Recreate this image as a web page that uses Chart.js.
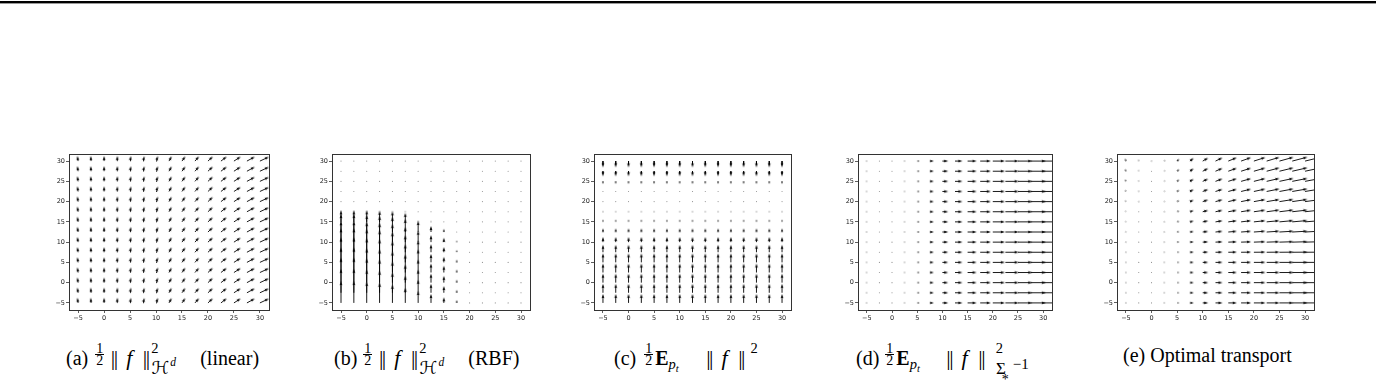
<!DOCTYPE html>
<html>
<head>
<meta charset="utf-8">
<script src="https://cdn.jsdelivr.net/npm/chart.js@4.4.1/dist/chart.umd.min.js"></script>
<style>
  body { margin: 0; width: 1376px; height: 382px; background: #fff; position: relative; overflow: hidden; }
  .rule { position: absolute; left: 0; width: 1376px; }
  .panel { position: absolute; }
  .cap { position: absolute; top: 343px; font-family: "Liberation Serif", serif; font-size: 20px; line-height: 24px; white-space: nowrap; color: #000; }
  .w { display: inline-block; text-align: left; white-space: nowrap; }
  .fr { display: inline-block; width: 9px; font-size: 14px; line-height: 11px; text-align: center; vertical-align: baseline; }
  .fr span { display: block; }
  .fr .dn { border-top: 1px solid #000; }
  .nb { display: inline-block; width: 12px; font-size: 22px; letter-spacing: -1.5px; text-align: center; text-indent: 1px; }
  .mf { display: inline-block; width: 20px; font-size: 22px; font-style: italic; text-align: center; }
  .sp { position: relative; top: -12px; font-size: 14.5px; }
  .cal { position: relative; top: 9px; margin-left: -7px; font-family: "DejaVu Sans", sans-serif; font-style: italic; font-size: 18px; }
  .sd { position: relative; top: 1px; font-style: italic; font-size: 11.5px; margin-left: 1px; }
  .E { font-weight: bold; }
  .pi { position: relative; top: 4px; font-style: italic; font-size: 14.5px; }
  .ti { position: relative; top: 3px; font-style: italic; font-size: 10.5px; }
  .sg { position: relative; top: 9px; margin-left: -7px; font-size: 17px; }
  .st { position: relative; top: 19px; margin-left: -4px; font-size: 14px; }
  .m1 { position: relative; top: 4px; margin-left: 4px; font-size: 15px; }
</style>
</head>
<body>
<div class="rule" style="top:1px;height:2px;background:#000"></div>
<div class="rule" style="top:3px;height:1px;background:#999"></div>

<div class="cap" style="left:66px">(a)<span class="w" style="width:7px"></span><span class="fr"><span>1</span><span class="dn">2</span></span><span class="w" style="width:3px"></span><span class="nb">||</span><i class="mf">f</i><span class="nb">||</span><span class="w" style="width:34px"><span class="sp">2</span><span class="cal">ℋ</span><span class="sd">d</span></span><span class="w" style="width:15px"></span>(linear)</div>
<div class="cap" style="left:334px">(b)<span class="w" style="width:6px"></span><span class="fr"><span>1</span><span class="dn">2</span></span><span class="w" style="width:3px"></span><span class="nb">||</span><i class="mf">f</i><span class="nb">||</span><span class="w" style="width:34px"><span class="sp">2</span><span class="cal">ℋ</span><span class="sd">d</span></span><span class="w" style="width:15px"></span>(RBF)</div>
<div class="cap" style="left:614px">(c)<span class="w" style="width:8px"></span><span class="fr"><span>1</span><span class="dn">2</span></span><span class="w" style="width:2px"></span><span class="E">E</span><span class="w" style="width:22px"><span class="pi">p<span class="ti">t</span></span></span><span class="w" style="width:12px"></span><span class="nb">||</span><i class="mf">f</i><span class="nb">||</span><span class="w" style="width:4px"></span><span class="sp">2</span></div>
<div class="cap" style="left:856px">(d)<span class="w" style="width:6px"></span><span class="fr"><span>1</span><span class="dn">2</span></span><span class="w" style="width:2px"></span><span class="E">E</span><span class="w" style="width:22px"><span class="pi">p<span class="ti">t</span></span></span><span class="w" style="width:11px"></span><span class="nb">||</span><i class="mf">f</i><span class="nb">||</span><span class="w" style="width:9px"></span><span class="w" style="width:45px"><span class="sp">2</span><span class="sg">Σ</span><span class="st">*</span><span class="m1">−1</span></span></div>
<div class="cap" style="left:1123px">(e) Optimal transport</div>

<script>
// grid of arrow tails, rows listed top (y = 30) to bottom (y = -5)
const gridX = [-5, -2.5, 0, 2.5, 5, 7.5, 10, 12.5, 15, 17.5, 20, 22.5, 25, 27.5, 30];
const gridY = [30, 27.5, 25, 22.5, 20, 17.5, 15, 12.5, 10, 7.5, 5, 2.5, 0, -2.5, -5];
const axisTicks = [-5, 0, 5, 10, 15, 20, 25, 30];
const axisMin = -6.75, axisMax = 31.75;

// arrow components below are in quiver units (about one screen pixel each)

// (a) linear kernel: the same arrow in every row of a column
const linU = [-0.8, -0.4, 0, 0.5, 1.0, 1.5, 2.1, 2.7, 3.4, 4.1, 4.9, 5.8, 6.8, 7.9, 9.0];
const linV = [5.2, 5.2, 5.2, 5.2, 5.1, 5.0, 5.0, 4.9, 4.8, 4.7, 4.6, 4.5, 4.4, 4.3, 4.2];

// (b) RBF kernel: vertical arrows only
const rbfV = [
  [0.1, 0.1, 0.1, 0.1, 0.1, 0.1, 0.1, 0.1, 0.1, 0.1, 0.1, 0.1, 0.1, 0.1, 0.1],
  [0.1, 0.1, 0.1, 0.1, 0.1, 0.1, 0.1, 0.1, 0.1, 0.1, 0.1, 0.1, 0.1, 0.1, 0.1],
  [0.1, 0.1, 0.1, 0.1, 0.1, 0.1, 0.1, 0.1, 0.1, 0.1, 0.1, 0.1, 0.1, 0.1, 0.1],
  [0.2, 0.2, 0.2, 0.2, 0.2, 0.1, 0.1, 0.1, 0.1, 0.1, 0.1, 0.1, 0.1, 0.1, 0.1],
  [0.5, 0.5, 0.5, 0.5, 0.4, 0.3, 0.2, 0.1, 0.1, 0.1, 0.1, 0.1, 0.1, 0.1, 0.1],
  [1.2, 1.2, 1.2, 1.2, 1.1, 1.0, 0.5, 0.3, 0.2, 0.1, 0.1, 0.1, 0.1, 0.1, 0.1],
  [11.5, 11.5, 11.5, 11, 10.5, 9, 1.6, 1.2, 0.6, 0.3, 0.1, 0.1, 0.1, 0.1, 0.1],
  [18, 18, 17, 16, 15, 13, 11, 6, 3.2, 0.8, 0.2, 0.1, 0.1, 0.1, 0.1],
  [21, 21, 20, 19, 18, 15, 11.5, 7, 4.4, 1.8, 0.3, 0.1, 0.1, 0.1, 0.1],
  [24, 24, 23, 22, 20, 17, 12, 8, 5.2, 2.4, 0.4, 0.1, 0.1, 0.1, 0.1],
  [25, 25, 24, 23, 21, 18, 13, 8.5, 5.6, 2.8, 0.4, 0.1, 0.1, 0.1, 0.1],
  [25, 25, 24, 23, 21, 18, 13, 9, 6.8, 3.0, 0.5, 0.1, 0.1, 0.1, 0.1],
  [25, 25, 24, 23, 21, 18, 13, 9, 6.8, 3.0, 0.5, 0.1, 0.1, 0.1, 0.1],
  [24, 24, 23, 22, 20, 17, 13, 9, 6.8, 3.0, 0.5, 0.1, 0.1, 0.1, 0.1],
  [22, 22, 21, 20, 18, 15, 12, 9, 5.6, 3.0, 0.5, 0.1, 0.1, 0.1, 0.1]
];

// (c) E_pt ||f||^2: the same vertical arrow in every column of a row
const l2V = [-6.4, -5.2, -2.8, -0.3, 0.2, 1.0, 2.4, 3.6, 5.2, 7.5, 9, 9, 9, 9, 9];

// (d) Sigma weighted: horizontal arrows, same in every row
const sigU = [-1.2, -0.3, 0.3, 0.9, 2.4, 4.0, 5.8, 7.4, 9.0, 10.6, 12.1, 13.3, 14.3, 15.3, 16.3];

// (e) optimal transport
const otU = [-1.0, -0.3, 0.3, 0.9, 2.2, 3.8, 5.5, 7.0, 8.5, 10.0, 11.5, 12.8, 14.0, 15.2, 16.4];
const otV = [
  [2.6, 1.7, 0.9, 1.3, 2.3, 3.0, 3.2, 3.4, 3.5, 3.6, 3.7, 3.8, 3.9, 4.0, 4.0],
  [2.3, 1.5, 0.8, 1.1, 2.0, 2.7, 2.9, 3.0, 3.1, 3.2, 3.3, 3.4, 3.4, 3.5, 3.5],
  [2.0, 1.3, 0.7, 1.0, 1.8, 2.3, 2.5, 2.6, 2.7, 2.8, 2.9, 3.0, 3.0, 3.0, 3.1],
  [1.7, 1.1, 0.6, 0.8, 1.5, 2.0, 2.1, 2.2, 2.3, 2.4, 2.5, 2.6, 2.6, 2.6, 2.7],
  [1.4, 0.9, 0.5, 0.7, 1.2, 1.6, 1.8, 1.9, 2.0, 2.0, 2.1, 2.1, 2.2, 2.2, 2.2],
  [1.1, 0.7, 0.4, 0.5, 0.9, 1.2, 1.4, 1.5, 1.5, 1.6, 1.6, 1.7, 1.7, 1.7, 1.8],
  [0.8, 0.5, 0.3, 0.4, 0.7, 0.9, 1.0, 1.1, 1.1, 1.2, 1.2, 1.2, 1.3, 1.3, 1.3],
  [0.5, 0.3, 0.2, 0.2, 0.4, 0.5, 0.6, 0.7, 0.7, 0.7, 0.8, 0.8, 0.8, 0.8, 0.9],
  [0.2, 0.1, 0.1, 0.1, 0.2, 0.2, 0.3, 0.3, 0.3, 0.3, 0.4, 0.4, 0.4, 0.4, 0.4],
  [0.1, 0.1, 0.1, 0.1, 0.1, 0.1, 0.1, 0.1, 0.1, 0.1, 0.1, 0.1, 0.1, 0.1, 0.1],
  [0, 0, 0, 0, 0, 0, 0, 0, 0, 0, 0, 0, 0, 0, 0],
  [0, 0, 0, 0, 0, 0, 0, 0, 0, 0, 0, 0, 0, 0, 0],
  [0, 0, 0, 0, 0, 0, 0, 0, 0, 0, 0, 0, 0, 0, 0],
  [0, 0, 0, 0, 0, 0, 0, 0, 0, 0, 0, 0, 0, 0, 0],
  [0, 0, 0, 0, 0, 0, 0, 0, 0, 0, 0, 0, 0, 0, 0]
];

const TOP = 154, BOTTOM = 310;
const panels = [
  { left: 69, right: 269, u: (i, j) => linU[j], v: (i, j) => linV[j] },
  { left: 332, right: 530, u: () => 0, v: (i, j) => rbfV[i][j] },
  { left: 594, right: 791, u: () => 0, v: (i) => l2V[i] },
  { left: 858, right: 1052, u: (i, j) => sigU[j], v: () => 0 },
  { left: 1117, right: 1314, u: (i, j) => otU[j], v: (i, j) => otV[i][j] }
];

const HEAD_LEN = 4.2;
const heads = {};
function headImg(s) {
  const key = Math.max(7, Math.round(s * 20));
  if (heads[key]) return heads[key];
  const k = key / 20;
  const hl = HEAD_LEN * k, hw = 2.8 * k, ha = 3.7 * k;
  const n = 2 * Math.ceil(hl) + 4;
  const c = document.createElement('canvas');
  c.width = c.height = n;
  const g = c.getContext('2d');
  const m = n / 2;
  g.fillStyle = '#000';
  g.beginPath();
  g.moveTo(m, m);
  g.lineTo(m + hw / 2, m + hl);
  g.lineTo(m, m + ha);
  g.lineTo(m - hw / 2, m + hl);
  g.closePath();
  g.fill();
  heads[key] = c;
  return c;
}

function quiver(p) {
  const kx = (axisMax - axisMin) / (p.right - p.left);
  const ky = (axisMax - axisMin) / (BOTTOM - TOP);
  const shafts = [], tips = [], dots = [];
  gridY.forEach((y, i) => gridX.forEach((x, j) => {
    const du = p.u(i, j), dv = p.v(i, j);
    const len = Math.hypot(du, dv);
    if (len < 0.9) { dots.push({ x, y }); return; }
    tips.push({ x: x + du * kx, y: y + dv * ky, img: headImg(Math.min(1, len / HEAD_LEN)), rot: Math.atan2(du, dv) * 180 / Math.PI });
    if (len > HEAD_LEN) {
      const f = (len - 3.2) / len;
      shafts.push({ x, y }, { x: x + du * kx * f, y: y + dv * ky * f }, { x: null, y: null });
    }
  }));
  return { shafts, tips, dots };
}

const fmt = v => (v < 0 ? '\u2212' + (-v) : String(v));
const tickFont = { family: 'DejaVu Sans', size: 6.5 };

function mainAxis(pos, fit) {
  return {
    type: 'linear', position: pos, min: axisMin, max: axisMax,
    afterBuildTicks: s => { s.ticks = axisTicks.map(v => ({ value: v })); },
    afterFit: fit,
    ticks: { font: tickFont, color: '#222', padding: 1, maxRotation: 0, autoSkip: false, callback: fmt },
    grid: { display: true, drawOnChartArea: false, drawTicks: true, tickLength: 3, color: '#333', lineWidth: 0.8 },
    border: { display: true, color: '#333', width: 1 }
  };
}
function frameAxis(pos, fit) {
  return {
    type: 'linear', position: pos, min: axisMin, max: axisMax,
    afterFit: fit,
    ticks: { display: false },
    grid: { display: false },
    border: { display: true, color: '#333', width: 1 }
  };
}

panels.forEach(p => {
  const w = p.right - p.left, h = BOTTOM - TOP;
  const div = document.createElement('div');
  div.className = 'panel';
  div.style.left = (p.left - 30) + 'px';
  div.style.top = (TOP - 6) + 'px';
  const cv = document.createElement('canvas');
  cv.width = w + 36; cv.height = h + 28;
  cv.style.width = cv.width + 'px'; cv.style.height = cv.height + 'px';
  div.appendChild(cv);
  document.body.appendChild(div);
  const q = quiver(p);
  new Chart(cv, {
    type: 'scatter',
    data: {
      datasets: [
        { data: q.shafts, showLine: true, borderColor: '#000', borderWidth: 0.9, pointRadius: 0, pointHoverRadius: 0, spanGaps: false },
        { data: q.tips, pointStyle: c => (c.raw ? c.raw.img : 'circle'), pointRotation: c => (c.raw ? c.raw.rot : 0),
          pointRadius: 1, pointHoverRadius: 1, pointBorderWidth: 0, pointBackgroundColor: '#000' },
        { data: q.dots, pointStyle: 'circle', pointRadius: 0.55, pointHoverRadius: 0.55, pointBorderWidth: 0,
          pointBackgroundColor: 'rgba(0,0,0,0.45)' }
      ]
    },
    options: {
      responsive: false, animation: false, devicePixelRatio: 1, events: [],
      layout: { padding: { left: 0, top: 6, right: 6, bottom: 0 } },
      plugins: { legend: { display: false }, tooltip: { enabled: false }, colors: { enabled: false } },
      scales: {
        x: mainAxis('bottom', s => { s.height = 22; }),
        y: mainAxis('left', s => { s.width = 30; }),
        x2: frameAxis('top', s => { s.height = 0; }),
        y2: frameAxis('right', s => { s.width = 0; })
      }
    }
  });
});
</script>
</body>
</html>
